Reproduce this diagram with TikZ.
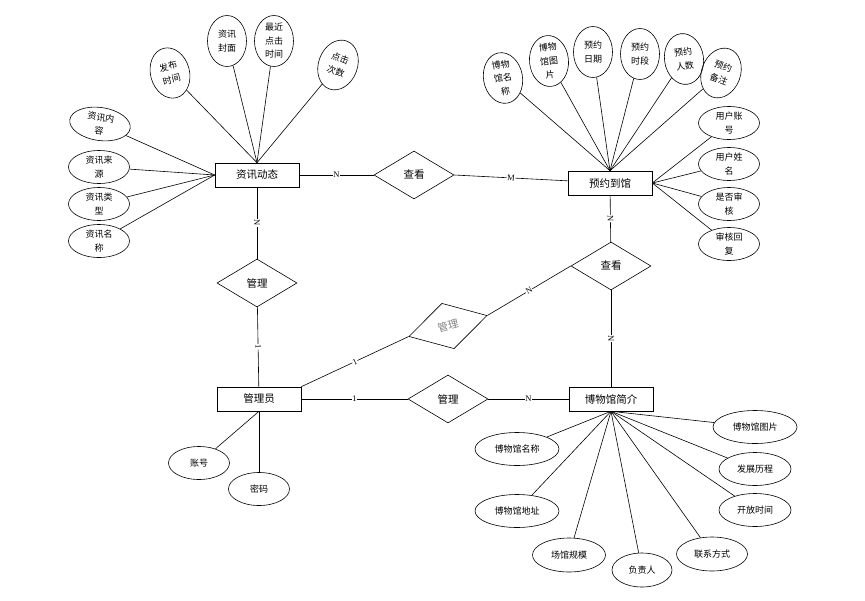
\documentclass[tikz,border=0pt]{standalone}
\usepackage{fontspec}
\setmainfont{Noto Sans CJK SC}
\newfontfamily\cardfont{Liberation Serif}
\usetikzlibrary{shapes.geometric,positioning}
\tikzset{every picture/.style={line width=0.6pt}}
\tikzset{
    ent/.style={draw, rectangle, minimum width=84pt, minimum height=24pt, inner sep=0pt,
        font=\fontsize{10.5}{12}\selectfont},
    rel/.style={draw, diamond, aspect=1.6, minimum width=80pt, minimum height=48pt, inner sep=0pt,
        font=\fontsize{10.5}{12}\selectfont},
    attr/.style={draw, ellipse, align=center, inner sep=0pt, font=\fontsize{9}{13.5}\selectfont},
    tall/.style={attr, minimum width=39pt, minimum height=51pt},
    wide/.style={attr, minimum width=61pt, minimum height=33pt},
    long/.style={attr, minimum width=84pt, minimum height=33pt},
    card/.style={fill=white, inner sep=0.6pt, sloped, font=\cardfont\fontsize{8.5}{8.5}\selectfont},
}

\begin{document}
\begin{tikzpicture}[x=1pt, y=-1pt]
    \useasboundingbox (0,0) rectangle (865,600);
    % entities and relations
    \node[ent] (zx) at (257,175) {资讯动态};
    \node[ent] (yy) at (610,183) {预约到馆};
    \node[ent] (gly) at (259,399) {管理员};
    \node[ent] (bwg) at (611,399) {博物馆简介};
    \node[rel] (ck1) at (414,175) {查看};
    \node[rel] (ck2) at (611,266) {查看};
    \node[rel] (gl1) at (257,283) {管理};
    \node[rel, rotate=15, minimum width=81pt, minimum height=47pt, text=gray] (gl2) at (448,326) {管理};
    \node[rel] (gl3) at (448,399) {管理};

    \draw (zx) -- node[card] {N} (ck1);
    \draw (ck1.east) -- node[card] {M} (yy);
    \draw (yy) -- node[card] {N} (ck2);
    \draw (ck2) -- node[card] {N} (bwg);
    \draw (zx) -- node[card] {N} (gl1);
    \draw (gl1) -- node[card] {1} (gly);
    \draw (gly) -- node[card] {1} (gl3);
    \draw (gl3) -- node[card] {N} (bwg);
    \draw (gly.north east) -- node[card] {1} (gl2.west);
    \draw (gl2.east) -- node[card] {N} (ck2.west);

    % 资讯动态
    \node[tall, rotate=15] (fb) at (170,73) {发布\\时间};
    \node[tall] (fm) at (227,41) {资讯\\封面};
    \node[tall] (zj) at (274,41) {最近\\点击\\时间};
    \node[tall, rotate=-20] (dj) at (338,65) {点击\\次数};
    \node[wide, rotate=-8] (nr) at (100,124) {资讯内\\容};
    \node[wide] (ly) at (99,167) {资讯来\\源};
    \node[wide] (lx) at (99,204) {资讯类\\型};
    \node[wide] (mc) at (99,241) {资讯名\\称};
    \foreach \a in {fb,fm,zj,dj}
        \draw (zx.north) -- (\a);
    \foreach \a in {nr,ly,lx,mc}
        \draw (zx.west) -- (\a);

    % 预约到馆
    \node[tall, rotate=10] (ym) at (503,78) {博物\\馆名\\称};
    \node[tall, rotate=5] (yt) at (549,61) {博物\\馆图\\片};
    \node[tall] (rq) at (593,52) {预约\\日期};
    \node[tall] (sd) at (640,54) {预约\\时段};
    \node[tall, rotate=8] (rs) at (684,59) {预约\\人数};
    \node[tall, rotate=-20] (bz) at (721,73) {预约\\备注};
    \node[wide] (zh1) at (729,123) {用户账\\号};
    \node[wide] (xm) at (729,164) {用户姓\\名};
    \node[wide] (sh) at (729,204) {是否审\\核};
    \node[wide] (hf) at (729,244) {审核回\\复};
    \foreach \a in {ym,yt,rq,sd,rs,bz}
        \draw (yy.north) -- (\a);
    \foreach \a in {zh1,xm,sh,hf}
        \draw (yy.east) -- (\a);

    % 管理员
    \node[wide] (zh) at (199,463) {账号};
    \node[wide] (mm) at (259,489) {密码};
    \draw (gly.south) -- (zh);
    \draw (gly.south) -- (mm);

    % 博物馆简介
    \node[long] (bm) at (517,449) {博物馆名称};
    \node[long] (dz) at (517,511) {博物馆地址};
    \node[attr, minimum width=73pt, minimum height=34pt] (gm) at (569,555) {场馆规模};
    \node[attr, minimum width=60pt, minimum height=34pt] (fz) at (642,570) {负责人};
    \node[attr, minimum width=71pt, minimum height=34pt] (lf) at (712,554) {联系方式};
    \node[attr, minimum width=72pt, minimum height=33pt] (kf) at (755,510) {开放时间};
    \node[attr, minimum width=72pt, minimum height=33pt] (fl) at (755,469) {发展历程};
    \node[long] (bt) at (755,427) {博物馆图片};
    \foreach \a in {bm,dz,gm,fz,lf,kf,fl,bt}
        \draw (bwg.south) -- (\a);
\end{tikzpicture}
\end{document}
